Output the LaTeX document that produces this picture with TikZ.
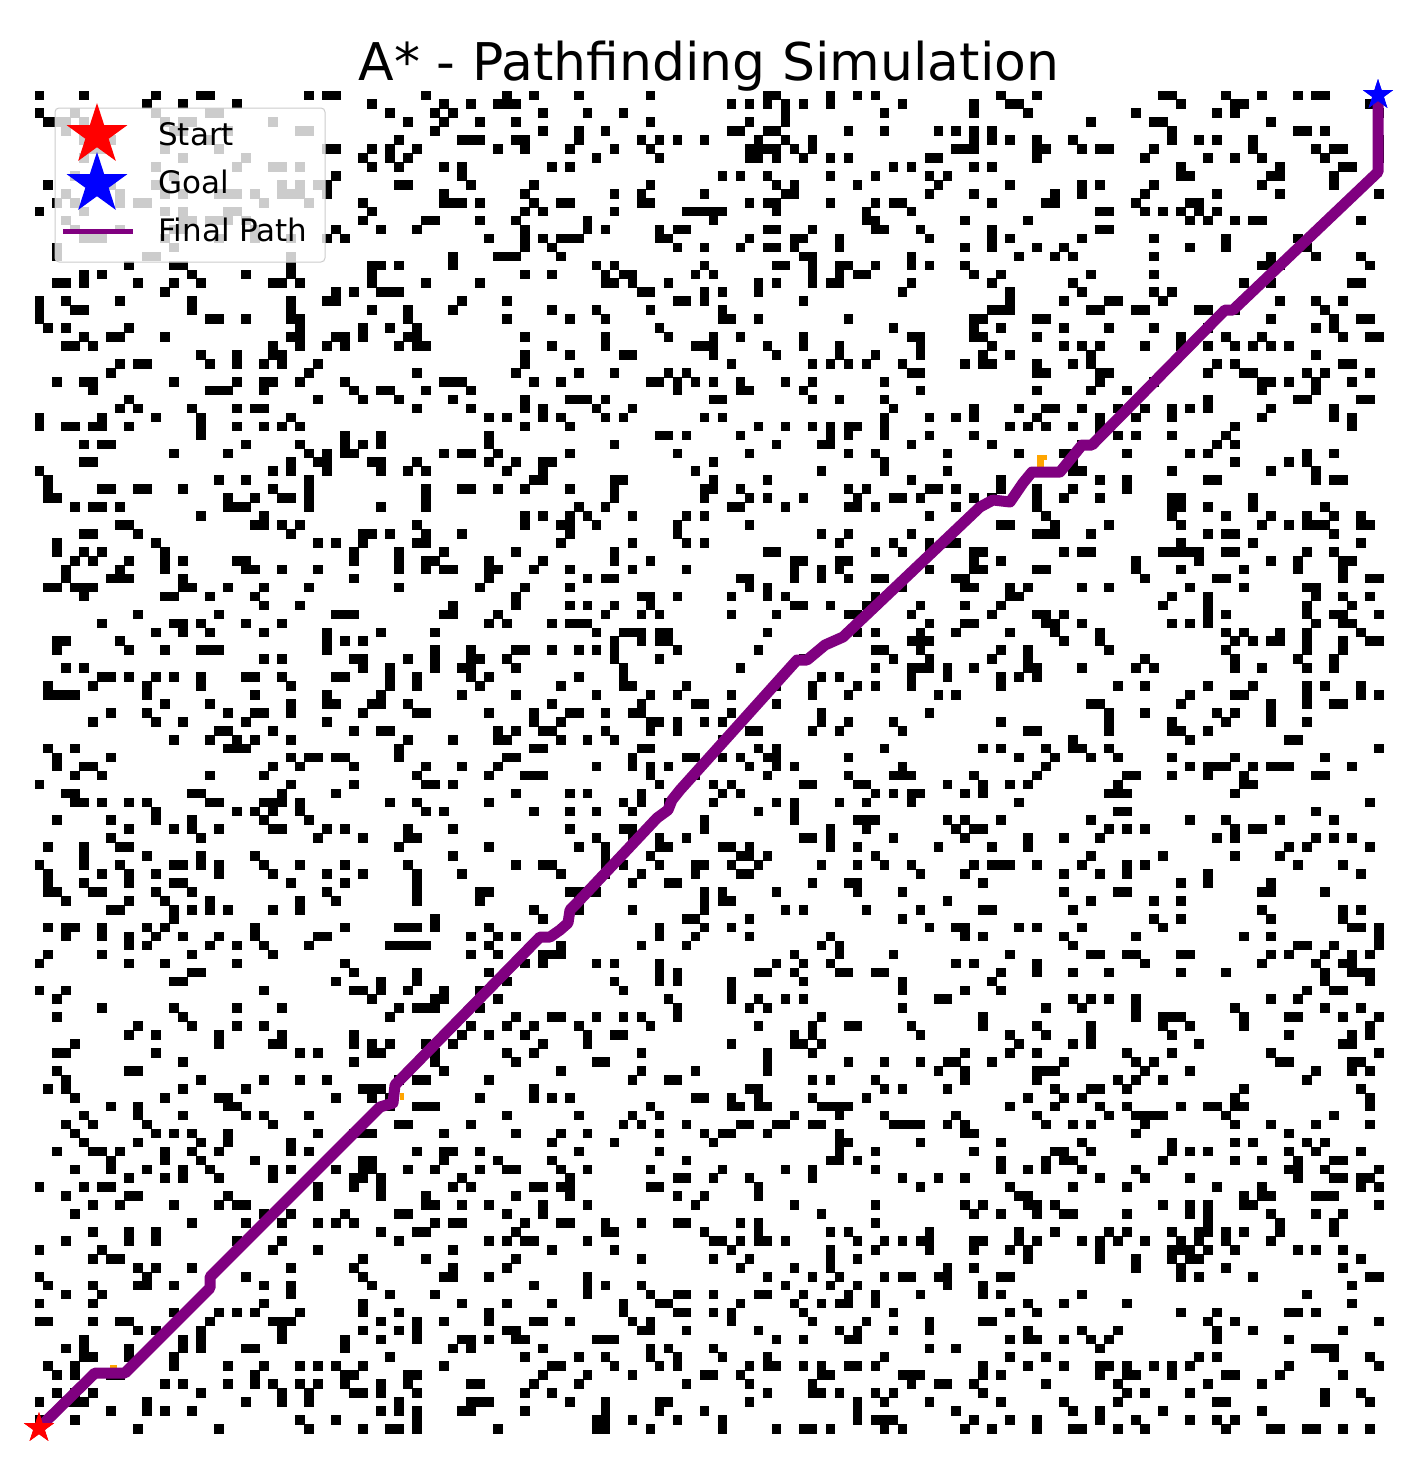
\documentclass[tikz,border=0pt]{standalone}
\usepackage{fontspec}
\setmainfont{DejaVu Sans}
\usetikzlibrary{shapes.geometric}
\definecolor{pathpurple}{HTML}{800080}
\definecolor{visited}{HTML}{FFA500}
\tikzset{
  starmark/.style={star, star points=5, star point ratio=2.618, inner sep=0pt, minimum size=#1},
  obstacle/.style={fill=black},
  finalpath/.style={draw=pathpurple, line width=11pt, line join=round, line cap=butt},
  legtext/.style={anchor=base west, inner sep=0pt, font=\fontsize{31}{31}\selectfont},
}
\begin{document}
\begin{tikzpicture}[x=1pt,y=-1pt]
\useasboundingbox (0,0) rectangle (1419,1483);
\fill[white] (0,0) rectangle (1419,1483);
% obstacles
\pgfmathsetseed{20240}
\foreach \i in {0,...,149}{
  \foreach \j in {0,...,149}{
    \pgfmathrandominteger{\r}{1}{1000}
    \ifnum\r<152
      \fill[obstacle] ({34.5+\i*8.99},{90.5+\j*8.95}) rectangle ++(9.6,9.6);
    \fi
  }
}
% visited cells
\fill[visited] (110,1365) rectangle (117,1369);
\fill[visited] (400,1093) rectangle (404,1100);
\fill[visited] (1037,455) rectangle (1044,467);
\fill[visited] (1044,455) rectangle (1047,460);
% start and goal
\node[starmark=32pt, fill=red] (start) at (39,1428) {};
\node[starmark=32pt, fill=blue] (goal) at (1378,95) {};
% final path
\draw[finalpath] (start.center) -- (95,1373) -- (125,1373) -- (210,1288) -- (210,1277)
  -- (380,1107) -- (393,1103) -- (395,1085) -- (540,937) -- (550,937) -- (560,930)
  -- (568,923) -- (570,910) -- (577,903) -- (657,818) -- (668,810) -- (672,800)
  -- (680,790) -- (797,660) -- (807,660) -- (825,645) -- (843,637) -- (980,507)
  -- (993,500) -- (1010,502) -- (1023,483) -- (1032,472) -- (1060,472) -- (1082,445)
  -- (1092,445) -- (1225,310) -- (1233,310) -- (1378,172) -- (goal.center);
\node[starmark=32pt, fill=blue] at (goal.center) {};
\node[starmark=32pt, fill=red] at (start.center) {};
% title
\node[anchor=base, inner sep=0pt, font=\fontsize{52}{52}\selectfont] (title) at (709,80) {A* - Pathfinding Simulation};
% legend
\draw[draw=black!20, fill=white, fill opacity=0.8, rounded corners=4pt, line width=1pt] (55,108) rectangle (325,262);
\node[starmark=64pt, fill=red] (legstart) at (97,135) {};
\node[starmark=64pt, fill=blue] (leggoal) at (97,184) {};
\coordinate (legpathA) at (63,231);
\coordinate (legpathB) at (133,231);
\draw[draw=pathpurple, line width=5pt] (legpathA) -- (legpathB);
\node[legtext] (tstart) at (158,145) {Start};
\node[legtext] (tgoal) at (158,193) {Goal};
\node[legtext] (tpath) at (158,241) {Final Path};
\end{tikzpicture}
\end{document}
